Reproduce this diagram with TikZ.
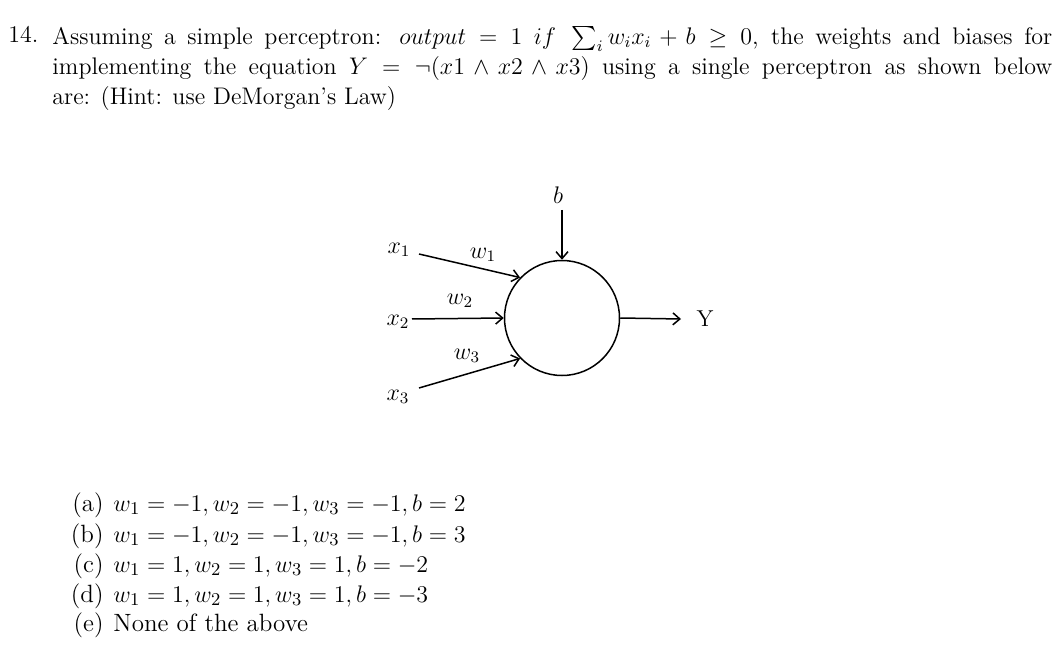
\documentclass[tikz,border=0pt]{standalone}
\usepackage{amsmath,amssymb}
\usepackage{fontspec}
\usetikzlibrary{
    positioning,   % Relative positioning
    arrows.meta    % Modern arrow tips
}
\tikzset{
    wire/.style={line width=0.75pt, -{Straight Barb[length=3.5pt,width=6pt]}},
    neuron/.style={circle, draw, line width=0.75pt, minimum size=57.5pt, inner sep=0pt},
    dlabel/.style={font=\fontsize{11.5}{13}\selectfont, inner sep=0pt},
    optlabel/.style={anchor=base east, inner sep=0pt, font=\fontsize{12.5}{15}\selectfont},
    opttext/.style={anchor=base west, inner sep=0pt, font=\fontsize{12.5}{15}\selectfont}
}

\begin{document}
\begin{tikzpicture}[x=0.5pt, y=-0.5pt]
    \useasboundingbox (0,0) rectangle (1062,658);
    % question text
    \node[anchor=base west, inner sep=0pt, font=\fontsize{12}{15}\selectfont] (qnum) at (8,43) {14.};
    \node[anchor=north west, inner sep=0pt, text width=500pt, align=justify,
          font=\fontsize{12}{15}\selectfont] (question) at (52,26)
        {Assuming a simple perceptron:
         $output = 1\ if\ \sum_i w_ix_i+b\geq 0$, the weights and biases for\linebreak
         implementing the equation $Y=\neg(x1\wedge x2\wedge x3)$ using a single perceptron as shown below\linebreak
         are: (Hint: use DeMorgan's Law)};
    % perceptron
    \node[neuron] (cell) at (562,318) {};
    \node[dlabel] (b) at (558,195) {$b$};
    \node[dlabel] (x1) at (399,250) {$x_1$};
    \node[dlabel] (x2) at (398,322) {$x_2$};
    \node[dlabel] (x3) at (398,397) {$x_3$};
    \node[dlabel] (w1) at (483,255) {$w_1$};
    \node[dlabel] (w2) at (460,301) {$w_2$};
    \node[dlabel] (w3) at (467,356) {$w_3$};
    \node[dlabel] (y) at (705,319) {Y};
    \coordinate (x1end) at (419,254);
    \coordinate (x2end) at (412,319);
    \coordinate (x3end) at (419,388);
    \coordinate (bend) at (562,210);
    \coordinate (yend) at (681,319);
    \draw[wire] (x1end) -- (cell.136);
    \draw[wire] (x2end) -- (cell.west);
    \draw[wire] (x3end) -- (cell.224);
    \draw[wire] (bend) -- (cell.north);
    \draw[wire] (cell.east) -- (yend);
    % answers
    \node[optlabel] (la) at (104,511) {(a)};
    \node[opttext]  (ta) at (113,511) {$w_1=-1,w_2=-1,w_3=-1,b=2$};
    \node[optlabel] (lb) at (104,542) {(b)};
    \node[opttext]  (tb) at (113,542) {$w_1=-1,w_2=-1,w_3=-1,b=3$};
    \node[optlabel] (lc) at (104,572) {(c)};
    \node[opttext]  (tc) at (113,572) {$w_1=1,w_2=1,w_3=1,b=-2$};
    \node[optlabel] (ld) at (104,602) {(d)};
    \node[opttext]  (td) at (113,602) {$w_1=1,w_2=1,w_3=1,b=-3$};
    \node[optlabel] (le) at (104,631) {(e)};
    \node[opttext]  (te) at (113,631) {None of the above};
\end{tikzpicture}
\end{document}
